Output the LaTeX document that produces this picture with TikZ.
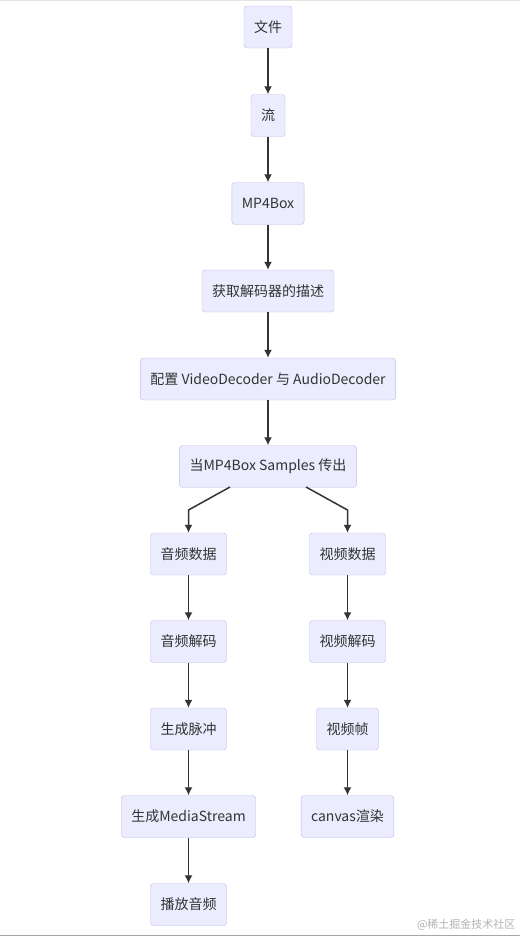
\documentclass[tikz,border=0pt]{standalone}
\usepackage{fontspec}
\setmainfont{Noto Sans CJK SC}
\usetikzlibrary{arrows.meta}
\definecolor{boxfill}{HTML}{ECECFF}
\definecolor{boxline}{HTML}{C3B8EC}
\definecolor{ink}{HTML}{333333}
\begin{document}
\begin{tikzpicture}[x=1pt,y=-1pt]

\tikzstyle stage=[draw=boxline, fill=boxfill, rounded corners=3pt, minimum height=42pt, inner xsep=10pt, text=ink, font=\fontsize{14}{16}\selectfont]
\tikzstyle flow=[-{Latex[length=8pt,width=8pt]}, line width=1.5pt, draw=ink]

\useasboundingbox (0,0) rectangle (520,940);
\draw [black!10] (0,0.5) -- (520,0.5);
\draw [black!35] (0,935) -- (520,935);

\node (f) [stage] at (268,27)    {文件};
\node (s) [stage] at (268,115.5) {流};
\node (m) [stage] at (268,203.5) {MP4Box};
\node (d) [stage] at (268,291)   {获取解码器的描述};
\node (c) [stage] at (268,379)   {配置 VideoDecoder 与 AudioDecoder};
\node (t) [stage] at (268,466.5) {当MP4Box Samples 传出};

\node (a1) [stage] at (188.5,554)   {音频数据};
\node (a2) [stage] at (188.5,641.5) {音频解码};
\node (a3) [stage] at (188.5,729)   {生成脉冲};
\node (a4) [stage] at (188.5,816.5) {生成MediaStream};
\node (a5) [stage] at (188.5,904.5) {播放音频};

\node (v1) [stage] at (347.5,554)   {视频数据};
\node (v2) [stage] at (347.5,641.5) {视频解码};
\node (v3) [stage] at (347.5,729)   {视频帧};
\node (v4) [stage] at (347.5,816.5) {canvas渲染};

\coordinate (tl) at (230,487);
\coordinate (tr) at (306,487);
\coordinate (al) at (188.5,510);
\coordinate (vr) at (347.5,510);

\node (w) [anchor=east, text=black!30, font=\fontsize{11}{12}\selectfont] at (519,925) {@稀土掘金技术社区};

\foreach \a/\b in {f/s, s/m, m/d, d/c, c/t}
{
\draw [flow] (\a) -- (\b);
}
\foreach \i/\j in {1/2, 2/3, 3/4, 4/5}
{
\draw [flow] (a\i) -- (a\j);
}
\foreach \i/\j in {1/2, 2/3, 3/4}
{
\draw [flow] (v\i) -- (v\j);
}

\draw [flow] (tl) -- (al) -- (a1);
\draw [flow] (tr) -- (vr) -- (v1);

\end{tikzpicture}
\end{document}
